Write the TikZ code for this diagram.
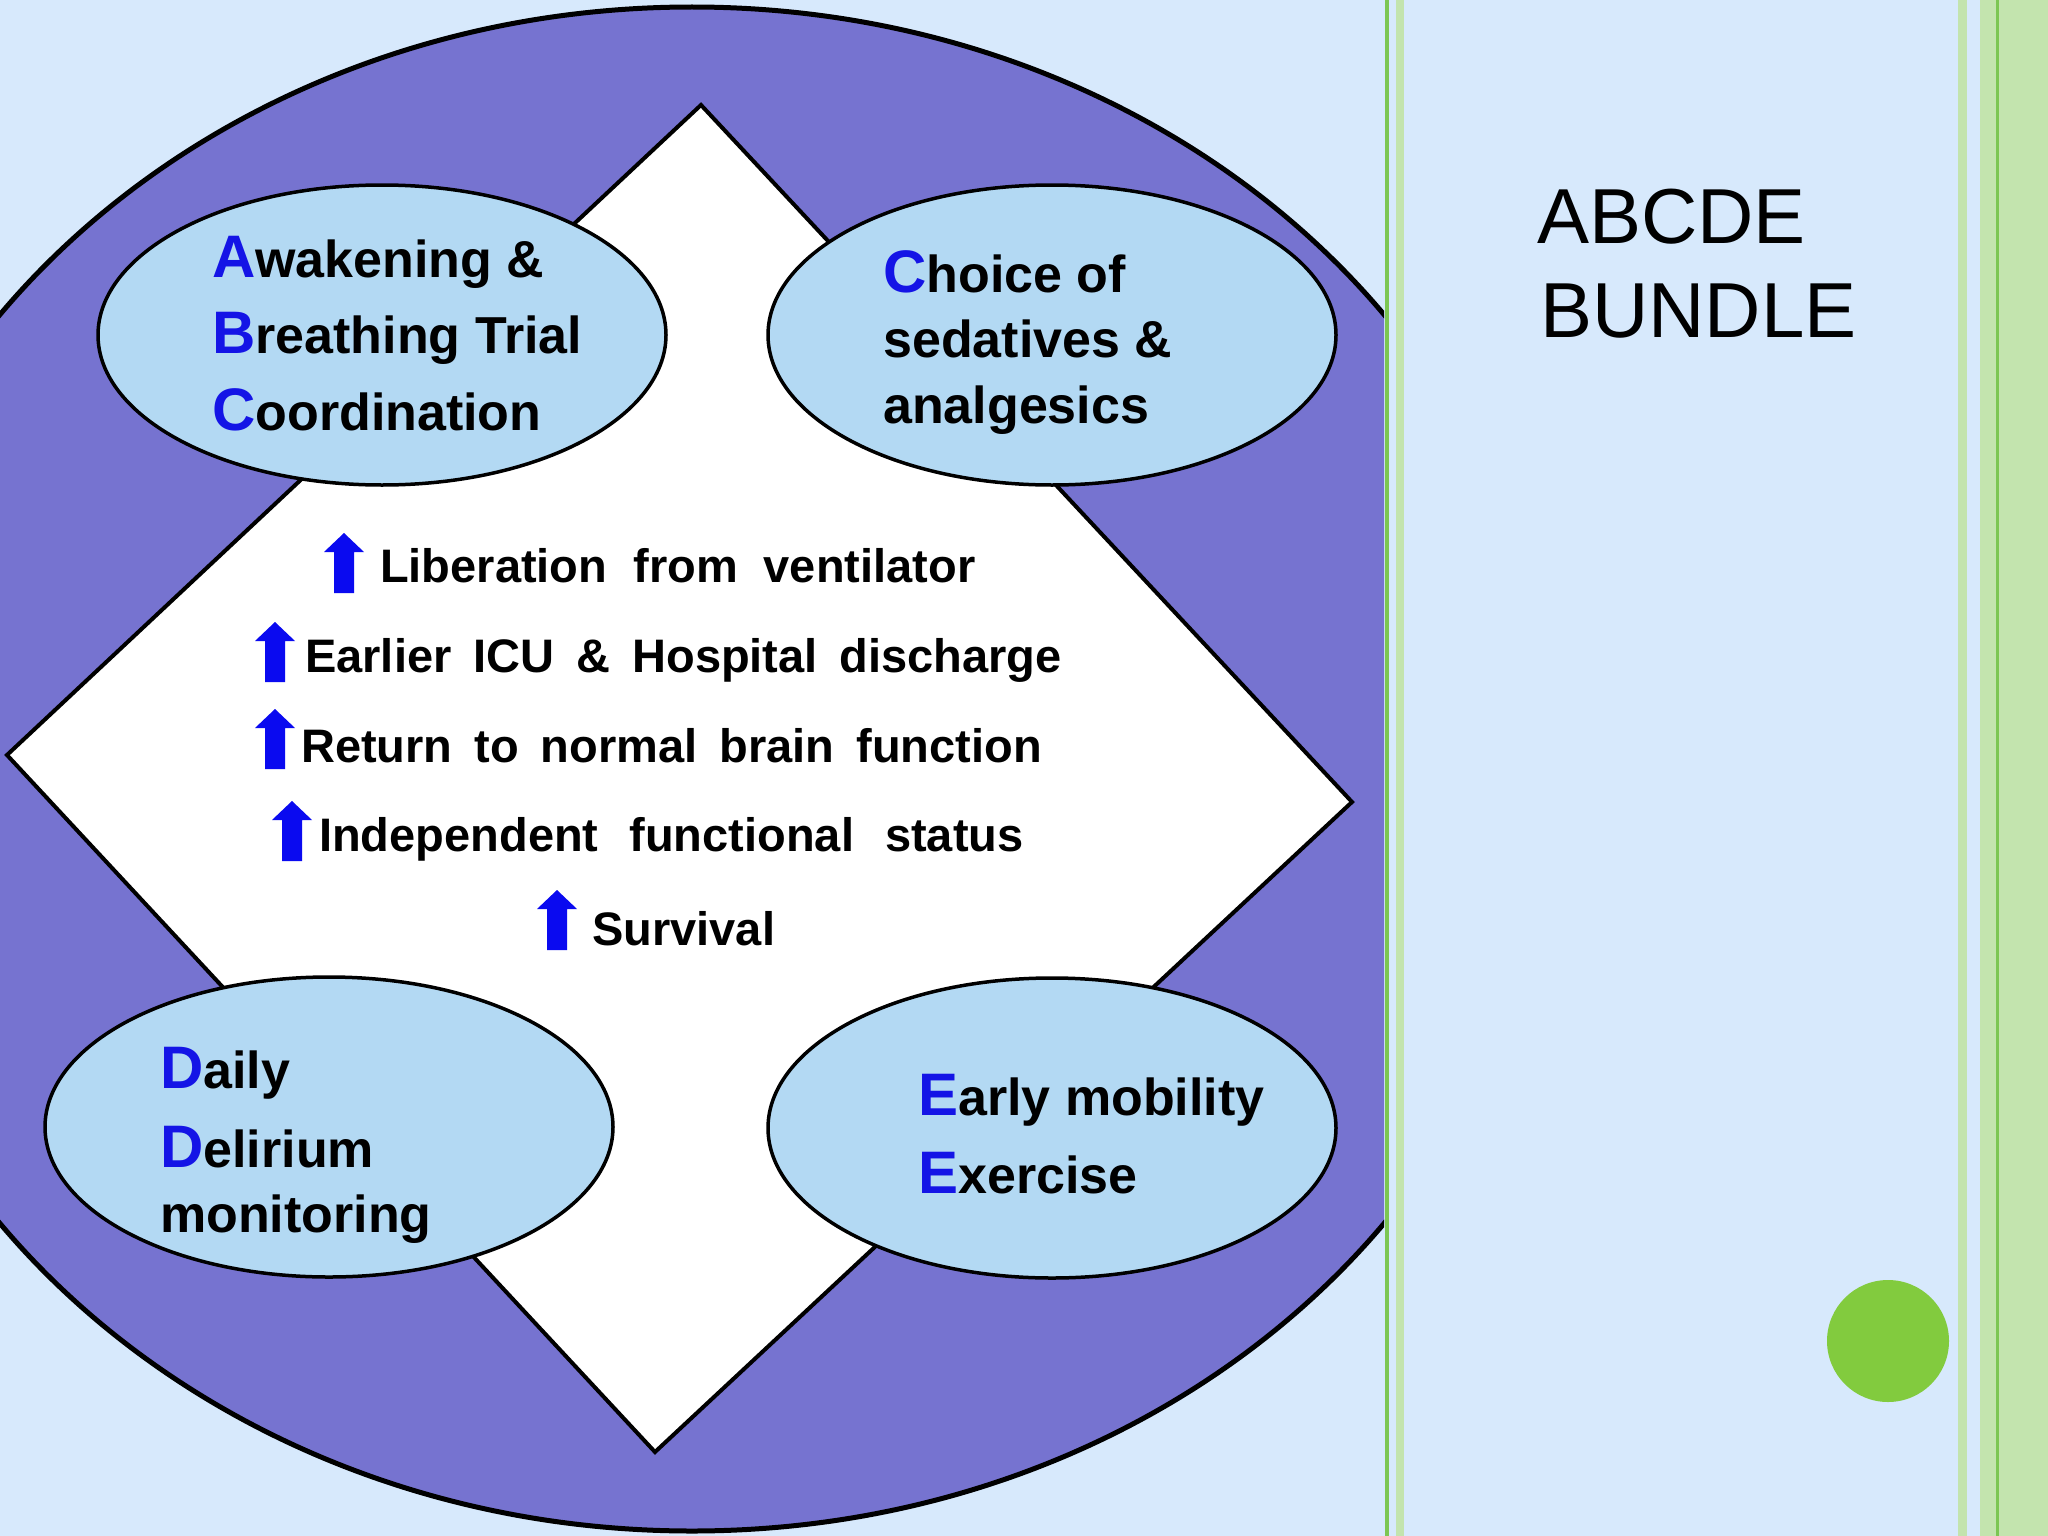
\documentclass[tikz,border=0pt]{standalone}
\usepackage{fontspec}
\setmainfont{Liberation Sans}
\usetikzlibrary{shapes.geometric}
\definecolor{bgblue}{HTML}{D7E9FC}
\definecolor{palegreen}{HTML}{C3E4AE}
\definecolor{brightgreen}{HTML}{7CC653}
\definecolor{ringpurple}{HTML}{7673D0}
\definecolor{bubfill}{HTML}{B3D9F3}
\definecolor{dotgreen}{HTML}{82CB3E}
\definecolor{initblue}{HTML}{1414E6}
\definecolor{arrowblue}{HTML}{0A0AF0}
\newcommand\blockarrow[2]{\fill[arrowblue] (#1-10,#2) -- (#1+10,#2) -- (#1+10,#2-41) -- (#1+20,#2-41) -- (#1,#2-60) -- (#1-20,#2-41) -- (#1-10,#2-41) -- cycle;}
\newcommand\ini[1]{{\fontsize{60}{60}\selectfont\color{initblue}#1}}
\newcommand\ws[1]{\spaceskip=#1pt\relax}
\begin{document}
\begin{tikzpicture}[x=1pt,y=-1pt,
  bub/.style={ellipse, draw=black, line width=3.5pt, fill=bubfill, minimum width=568pt, minimum height=300pt, inner sep=0pt},
  bubtext/.style={anchor=base west, inner sep=0pt, font=\fontsize{52}{60}\selectfont\bfseries},
  diatext/.style={anchor=base west, inner sep=0pt, font=\fontsize{47}{56}\selectfont\bfseries},
  titletext/.style={anchor=base west, inner sep=0pt, font=\fontsize{78}{90}\selectfont}]
\useasboundingbox (0,0) rectangle (2048,1536);
% background and stripes
\fill[bgblue] (0,0) rectangle (2048,1536);
\fill[brightgreen] (1385,0) rectangle (1388.5,1536);
\fill[palegreen] (1395.5,0) rectangle (1404,1536);
\fill[palegreen] (1958,0) rectangle (1967,1536);
\fill[palegreen] (1980,0) rectangle (2048,1536);
\fill[brightgreen] (1996,0) rectangle (1998.5,1536);
% big ring
\begin{scope}
\clip (0,0) rectangle (1384,1536);
\draw[fill=ringpurple, line width=5pt] (692,769) ellipse [x radius=862, y radius=762];
\end{scope}
% diamond
\coordinate (dT) at (701,105);
\coordinate (dR) at (1352,802);
\coordinate (dB) at (655,1452);
\coordinate (dL) at (7,755);
\draw[fill=white, line width=4pt, line join=miter] (dT) -- (dR) -- (dB) -- (dL) -- cycle;
% bubbles
\node[bub] (bA) at (382,335) {};
\node[bub] (bC) at (1052,335) {};
\node[bub] (bD) at (329,1127) {};
\node[bub] (bE) at (1052,1128) {};
% bubble texts
\node[bubtext] (a1) at (212,277) {\ini{A}wakening \&};
\node[bubtext] (a2) at (212,353) {\ini{B}reathing Trial};
\node[bubtext] (a3) at (212,430) {\ini{C}oordination};
\node[bubtext] (c1) at (883,292) {\ini{C}hoice of};
\node[bubtext] (c2) at (883,357) {sedatives \&};
\node[bubtext] (c3) at (883,423) {analgesics};
\node[bubtext] (d1) at (160,1088) {\ini{D}aily};
\node[bubtext] (d2) at (160,1167) {\ini{D}elirium};
\node[bubtext] (d3) at (160,1232) {monitoring};
\node[bubtext] (e1) at (918,1115) {\ini{E}arly mobility};
\node[bubtext] (e2) at (918,1193) {\ini{E}xercise};
% outcome list
\blockarrow{344}{593}
\blockarrow{275}{682}
\blockarrow{275}{769}
\blockarrow{292}{861}
\blockarrow{557}{950}
\node[diatext] (o1) at (380,582) {\ws{26}Liberation from ventilator};
\node[diatext] (o2) at (305,672) {\ws{22}Earlier ICU \& Hospital discharge};
\node[diatext] (o3) at (301,762) {\ws{22}Return to normal brain function};
\node[diatext] (o4) at (319,851) {\ws{31}Independent functional status};
\node[diatext] (o5) at (592,945) {Survival};
% title
\node[titletext] (t1) at (1537,243) {ABCDE};
\node[titletext] (t2) at (1540,337) {BUNDLE};
% green dot
\node[circle, fill=dotgreen, minimum size=122pt, inner sep=0pt] (dot) at (1888,1341) {};
\end{tikzpicture}
\end{document}
